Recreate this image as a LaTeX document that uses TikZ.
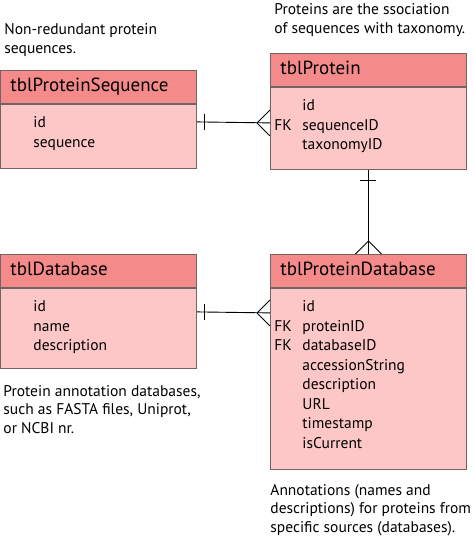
\documentclass[tikz,border=0pt]{standalone}
\usepackage{fontspec}
\setmainfont{PT Sans}
\usetikzlibrary{positioning,calc}

\definecolor{headred}{RGB}{245,138,138}
\definecolor{bodypink}{RGB}{254,199,199}
\definecolor{edgegray}{RGB}{112,100,100}

\tikzset{
  tblhead/.style={draw=edgegray, fill=headred, rectangle, anchor=north west,
    minimum width=196pt, minimum height=33pt, text width=176pt, inner xsep=10pt,
    text height=14pt, text depth=4pt, align=left, font=\fontsize{19}{23}\selectfont},
  tblbody/.style={draw=edgegray, fill=bodypink, rectangle, minimum width=196pt},
  % base anchor of a multi-line node = baseline of its last line
  fieldtxt/.style={anchor=base west, inner sep=0pt, align=left,
    font=\fontsize{15.5}{19.5}\selectfont},
  notetxt/.style={anchor=base west, inner sep=0pt, align=left,
    font=\fontsize{15.5}{18.5}\selectfont},
}

\begin{document}
\begin{tikzpicture}[x=1pt, y=-1pt, line width=0.9pt]
    \useasboundingbox (0,0) rectangle (474,536);

    % tables
    \node (seqhead) [tblhead] at (0,70) {tblProteinSequence};
    \node (seqbody) [tblbody, minimum height=64pt, below=0pt of seqhead] {};
    \node (seqfields) [fieldtxt] at ($(seqbody.north west)+(33,43.5)$) {id\\sequence};

    \node (prothead) [tblhead] at (270,53) {tblProtein};
    \node (protbody) [tblbody, minimum height=82pt, below=0pt of prothead] {};
    \node (protfields) [fieldtxt] at ($(protbody.north west)+(32,63)$) {id\\sequenceID\\taxonomyID};
    \node (protfk) [fieldtxt] at ($(protbody.north west)+(4,43.5)$) {FK};

    \node (dbhead) [tblhead] at (0,254) {tblDatabase};
    \node (dbbody) [tblbody, minimum height=80pt, below=0pt of dbhead] {};
    \node (dbfields) [fieldtxt] at ($(dbbody.north west)+(33,63)$) {id\\name\\description};

    \node (pdbhead) [tblhead] at (270,254) {tblProteinDatabase};
    \node (pdbbody) [tblbody, minimum height=181pt, below=0pt of pdbhead] {};
    \node (pdbfields) [fieldtxt] at ($(pdbbody.north west)+(32,160.5)$)
        {id\\proteinID\\databaseID\\accessionString\\description\\URL\\timestamp\\isCurrent};
    \node (pdbfk) [fieldtxt] at ($(pdbbody.north west)+(4,63)$) {FK\\FK};

    % notes
    \node (seqnote) [notetxt] at (4,53) {Non-redundant protein\\sequences.};
    \node (protnote) [notetxt] at (274,33) {Proteins are the ssociation\\of sequences with taxonomy.};
    \node (dbnote) [notetxt] at (3,433) {Protein annotation databases,\\such as FASTA files, Uniprot,\\or NCBI nr.};
    \node (pdbnote) [notetxt] at (270,532) {Annotations (names and\\descriptions) for proteins from\\specific sources (databases).};

    % relations: one (tick) to many (crow's foot)
    \draw ($(seqbody.north east)+(0,18)$) -- ($(protbody.north west)+(0,36)$);
    \draw ($(seqbody.north east)+(8,10)$) -- ($(seqbody.north east)+(8,26)$);
    \draw ($(protbody.north west)+(-13,36)$) -- ($(protbody.north west)+(0,23)$);
    \draw ($(protbody.north west)+(-13,36)$) -- ($(protbody.north west)+(0,49)$);

    \draw (protbody.south) -- (pdbhead.north);
    \draw ($(protbody.south)+(-8,11)$) -- ($(protbody.south)+(8,11)$);
    \draw ($(pdbhead.north)+(0,-13)$) -- ($(pdbhead.north)+(-13,0)$);
    \draw ($(pdbhead.north)+(0,-13)$) -- ($(pdbhead.north)+(13,0)$);

    \draw ($(dbbody.north east)+(0,24)$) -- ($(pdbbody.north west)+(0,25)$);
    \draw ($(dbbody.north east)+(8,16)$) -- ($(dbbody.north east)+(8,32)$);
    \draw ($(pdbbody.north west)+(-13,25)$) -- ($(pdbbody.north west)+(0,12)$);
    \draw ($(pdbbody.north west)+(-13,25)$) -- ($(pdbbody.north west)+(0,38)$);
\end{tikzpicture}
\end{document}
